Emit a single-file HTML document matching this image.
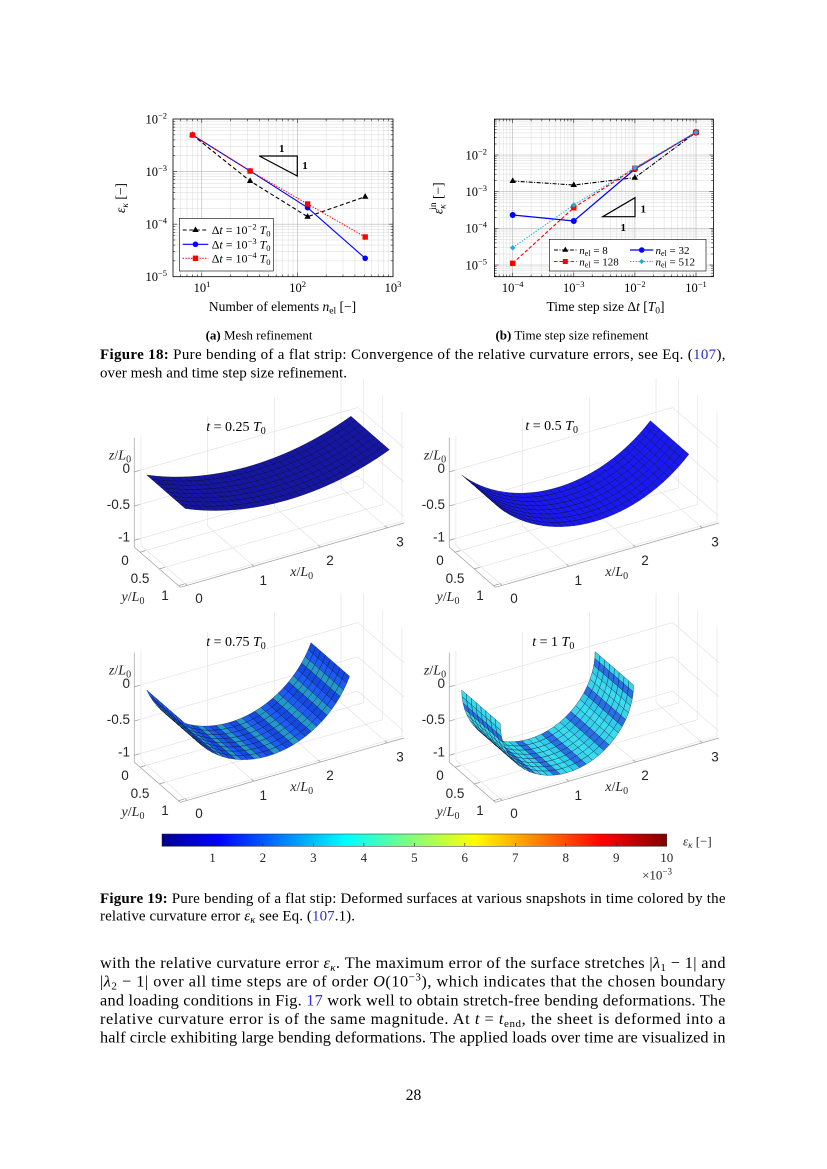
<!DOCTYPE html>
<html><head><meta charset="utf-8"><title>Figure 18 / 19</title>
<style>
html,body{margin:0;padding:0;background:#fff;width:827px;height:1169px;overflow:hidden}
svg{display:block}
text{font-family:"Liberation Serif","DejaVu Serif",serif}
.sf text{font-family:"Liberation Sans","DejaVu Sans",sans-serif}
.it{font-style:italic}
.b{font-weight:bold}
.lk{fill:#2b2bd0}
</style></head><body>
<svg xmlns="http://www.w3.org/2000/svg" width="827" height="1169" viewBox="0 0 827 1169">
<defs>
<linearGradient id="jet" x1="0" x2="1" y1="0" y2="0">
<stop offset="0" stop-color="#00008f"/>
<stop offset="0.111" stop-color="#0000ff"/>
<stop offset="0.365" stop-color="#00ffff"/>
<stop offset="0.619" stop-color="#ffff00"/>
<stop offset="0.873" stop-color="#ff0000"/>
<stop offset="1" stop-color="#800000"/>
</linearGradient>
</defs>
<rect width="827" height="1169" fill="#fff"/>

<!-- ===== Plot (a) ===== -->
<g id="gridA"></g>
<rect x="173" y="119" width="220" height="157.7" fill="none" stroke="#000" stroke-width="0.8"/>
<polyline points="192.5,135 250.1,181 307.6,216.7 365.2,196.7" fill="none" stroke="#000" stroke-width="1.1" stroke-dasharray="4 2.5"/>
<g fill="#000">
<polygon points="192.5,131.4 189.3,137 195.7,137"/><polygon points="250.1,177.4 246.9,183 253.3,183"/><polygon points="307.6,213.1 304.4,218.7 310.8,218.7"/><polygon points="365.2,193.1 362,198.7 368.4,198.7"/>
</g>
<polyline points="192.5,135 250.1,171 307.6,207.7 365.2,258.3" fill="none" stroke="#0000ff" stroke-width="1.1"/>
<g fill="#0000ff"><circle cx="192.5" cy="135" r="2.8"/><circle cx="250.1" cy="171" r="2.8"/><circle cx="307.6" cy="207.7" r="2.8"/><circle cx="365.2" cy="258.3" r="2.8"/></g>
<polyline points="192.5,135 250.1,171 307.6,204 365.2,237" fill="none" stroke="#ff0000" stroke-width="1.1" stroke-dasharray="1.3 1.5"/>
<g fill="#ff0000"><rect x="189.8" y="132.3" width="5.4" height="5.4"/><rect x="247.4" y="168.3" width="5.4" height="5.4"/><rect x="304.9" y="201.3" width="5.4" height="5.4"/><rect x="362.5" y="234.3" width="5.4" height="5.4"/></g>
<polygon points="259.3,156 297.3,156 297.3,176" fill="none" stroke="#000" stroke-width="1.2"/>
<text x="281.7" y="152" font-size="11" class="b" text-anchor="middle">1</text>
<text x="305" y="169" font-size="11" class="b" text-anchor="middle">1</text>
<!-- legend a -->
<rect x="179.3" y="218.3" width="94" height="52.7" fill="#fff" stroke="#000" stroke-width="0.6"/>
<line x1="182.7" y1="230" x2="208.3" y2="230" stroke="#000" stroke-width="1.1" stroke-dasharray="4 2.5"/>
<polygon points="195.5,226.4 192.3,232 198.7,232" fill="#000"/>
<line x1="182.7" y1="244.3" x2="208.3" y2="244.3" stroke="#0000ff" stroke-width="1.1"/>
<circle cx="195.5" cy="244.3" r="2.8" fill="#0000ff"/>
<line x1="182.7" y1="258.3" x2="208.3" y2="258.3" stroke="#ff0000" stroke-width="1.1" stroke-dasharray="1.3 1.5"/>
<rect x="192.8" y="255.6" width="5.4" height="5.4" fill="#ff0000"/>
<g font-size="12">
<text x="211.7" y="234">Δ<tspan class="it">t</tspan> = 10<tspan dy="-4.5" font-size="8.5">−2</tspan><tspan dy="4.5"> </tspan><tspan class="it">T</tspan><tspan dy="2.5" font-size="8.5">0</tspan></text>
<text x="211.7" y="248.3">Δ<tspan class="it">t</tspan> = 10<tspan dy="-4.5" font-size="8.5">−3</tspan><tspan dy="4.5"> </tspan><tspan class="it">T</tspan><tspan dy="2.5" font-size="8.5">0</tspan></text>
<text x="211.7" y="262.3">Δ<tspan class="it">t</tspan> = 10<tspan dy="-4.5" font-size="8.5">−4</tspan><tspan dy="4.5"> </tspan><tspan class="it">T</tspan><tspan dy="2.5" font-size="8.5">0</tspan></text>
</g>
<!-- ticks labels a -->
<g font-size="12.5">
<text x="167" y="123.5" text-anchor="end">10<tspan dy="-5" font-size="8.5">−2</tspan></text>
<text x="167" y="176" text-anchor="end">10<tspan dy="-5" font-size="8.5">−3</tspan></text>
<text x="167" y="228.5" text-anchor="end">10<tspan dy="-5" font-size="8.5">−4</tspan></text>
<text x="167" y="281" text-anchor="end">10<tspan dy="-5" font-size="8.5">−5</tspan></text>
<text x="202" y="292" text-anchor="middle">10<tspan dy="-5" font-size="8.5">1</tspan></text>
<text x="297.6" y="292" text-anchor="middle">10<tspan dy="-5" font-size="8.5">2</tspan></text>
<text x="393" y="292" text-anchor="middle">10<tspan dy="-5" font-size="8.5">3</tspan></text>
</g>
<text x="282.5" y="311" text-anchor="middle" font-size="13.5">Number of elements <tspan class="it">n</tspan><tspan font-size="9.5" dy="2.5">el</tspan><tspan dy="-2.5"> [−]</tspan></text>
<text transform="translate(125,198) rotate(-90)" text-anchor="middle" font-size="13.5"><tspan class="it">ε</tspan><tspan class="it" font-size="9.5" dy="3">κ</tspan><tspan dy="-3"> [−]</tspan></text>
<text x="259" y="339.5" text-anchor="middle" font-size="13"><tspan class="b">(a)</tspan> Mesh refinement</text>

<!-- ===== Plot (b) ===== -->
<g id="gridB"></g>
<rect x="494.4" y="119.1" width="219" height="157.6" fill="none" stroke="#000" stroke-width="0.8"/>
<polyline points="512.7,181 573.8,185 634.9,177.7 696,132.3" fill="none" stroke="#000" stroke-width="1.1" stroke-dasharray="4 1.5 1 1.5"/>
<g fill="#000">
<polygon points="512.7,177.4 509.5,183 515.9,183"/><polygon points="573.8,181.4 570.6,187 577,187"/><polygon points="634.9,174.1 631.7,179.7 638.1,179.7"/><polygon points="696,128.7 692.8,134.3 699.2,134.3"/>
</g>
<polyline points="512.7,215 573.8,221 634.9,169 696,132.3" fill="none" stroke="#0000ff" stroke-width="1.2"/>
<g fill="#0000ff"><circle cx="512.7" cy="215" r="3"/><circle cx="573.8" cy="221" r="3"/><circle cx="634.9" cy="169" r="3"/><circle cx="696" cy="132.3" r="3.2"/></g>
<polyline points="512.7,263.3 573.8,207.7 634.9,168.3 696,132.3" fill="none" stroke="#ff0000" stroke-width="1.1" stroke-dasharray="3.5 2"/>
<g fill="#ff0000"><rect x="510" y="260.6" width="5.4" height="5.4"/><rect x="571.1" y="205" width="5.4" height="5.4"/><rect x="632.2" y="165.6" width="5.4" height="5.4"/><rect x="693.3" y="129.6" width="5.4" height="5.4"/></g>
<polyline points="512.7,247.7 573.8,205 634.9,167.7 696,132.3" fill="none" stroke="#22aadd" stroke-width="1.1" stroke-dasharray="1.3 1.5"/>
<g fill="#22aadd">
<polygon points="512.7,244.9 515.5,247.7 512.7,250.5 509.9,247.7"/><polygon points="573.8,202.2 576.6,205 573.8,207.8 571,205"/><polygon points="634.9,164.9 637.7,167.7 634.9,170.5 632.1,167.7"/><polygon points="696,129.5 698.8,132.3 696,135.1 693.2,132.3"/>
</g>
<polygon points="602.7,216.7 635,216.7 635,197.7" fill="none" stroke="#000" stroke-width="1.2"/>
<text x="643.3" y="212.5" font-size="11" class="b" text-anchor="middle">1</text>
<text x="623.3" y="231" font-size="11" class="b" text-anchor="middle">1</text>
<!-- legend b -->
<rect x="549.3" y="239.3" width="156.7" height="31.7" fill="#fff" stroke="#000" stroke-width="0.6"/>
<line x1="554" y1="250" x2="576.7" y2="250" stroke="#000" stroke-width="1.1" stroke-dasharray="4 1.5 1 1.5"/>
<polygon points="565.3,246.6 562.3,251.8 568.3,251.8" fill="#000"/>
<line x1="630" y1="250" x2="653.3" y2="250" stroke="#0000ff" stroke-width="1.2"/>
<circle cx="641.7" cy="250" r="2.8" fill="#0000ff"/>
<line x1="554" y1="261.5" x2="576.7" y2="261.5" stroke="#ff0000" stroke-width="1.1" stroke-dasharray="3.5 2"/>
<rect x="562.8" y="259" width="5" height="5" fill="#ff0000"/>
<line x1="630" y1="261.5" x2="653.3" y2="261.5" stroke="#22aadd" stroke-width="1.1" stroke-dasharray="1.3 1.5"/>
<polygon points="641.7,258.9 644.3,261.5 641.7,264.1 639.1,261.5" fill="#22aadd"/>
<g font-size="11">
<text x="579.3" y="253.8"><tspan class="it">n</tspan><tspan font-size="8" dy="2">el</tspan><tspan dy="-2"> = 8</tspan></text>
<text x="655.5" y="253.8"><tspan class="it">n</tspan><tspan font-size="8" dy="2">el</tspan><tspan dy="-2"> = 32</tspan></text>
<text x="579.3" y="265.3"><tspan class="it">n</tspan><tspan font-size="8" dy="2">el</tspan><tspan dy="-2"> = 128</tspan></text>
<text x="655.5" y="265.3"><tspan class="it">n</tspan><tspan font-size="8" dy="2">el</tspan><tspan dy="-2"> = 512</tspan></text>
</g>
<g font-size="12.5">
<text x="487" y="159.5" text-anchor="end">10<tspan dy="-5" font-size="8.5">−2</tspan></text>
<text x="487" y="196" text-anchor="end">10<tspan dy="-5" font-size="8.5">−3</tspan></text>
<text x="487" y="232.5" text-anchor="end">10<tspan dy="-5" font-size="8.5">−4</tspan></text>
<text x="487" y="269.5" text-anchor="end">10<tspan dy="-5" font-size="8.5">−5</tspan></text>
<text x="512.7" y="292" text-anchor="middle">10<tspan dy="-5" font-size="8.5">−4</tspan></text>
<text x="573.8" y="292" text-anchor="middle">10<tspan dy="-5" font-size="8.5">−3</tspan></text>
<text x="634.9" y="292" text-anchor="middle">10<tspan dy="-5" font-size="8.5">−2</tspan></text>
<text x="696" y="292" text-anchor="middle">10<tspan dy="-5" font-size="8.5">−1</tspan></text>
</g>
<text x="605.5" y="311" text-anchor="middle" font-size="13.5">Time step size Δ<tspan class="it">t</tspan> [<tspan class="it">T</tspan><tspan font-size="9.5" dy="2.5">0</tspan><tspan dy="-2.5">]</tspan></text>
<text transform="translate(442.5,198.3) rotate(-90)" text-anchor="middle" font-size="13.5"><tspan class="it">ε</tspan><tspan class="it" font-size="9.5" dy="3">κ</tspan><tspan font-size="9.5" dx="-5.5" dy="-9.5">in</tspan><tspan dy="6.5"> [−]</tspan></text>
<text x="572" y="339.5" text-anchor="middle" font-size="13"><tspan class="b">(b)</tspan> Time step size refinement</text>

<!-- Figure 18 caption -->
<text x="100" y="359" font-size="15" textLength="625.5" lengthAdjust="spacing"><tspan class="b">Figure 18:</tspan> Pure bending of a flat strip: Convergence of the relative curvature errors, see Eq. (<tspan class="lk">107</tspan>),</text>
<text x="100" y="377.5" font-size="15" textLength="247" lengthAdjust="spacing">over mesh and time step size refinement.</text>

<!-- ===== 3D plots ===== -->
<g id="s0"></g><g id="s1"></g><g id="s2"></g><g id="s3"></g>

<g transform="translate(0,0)">
<g class="sf" font-size="13.5" fill="#262626">
<text x="130" y="473" text-anchor="end">0</text><text x="130" y="509" text-anchor="end">-0.5</text><text x="130" y="541.5" text-anchor="end">-1</text>
<text x="125" y="565" text-anchor="middle">0</text><text x="140" y="583" text-anchor="middle">0.5</text><text x="165" y="600" text-anchor="middle">1</text>
<text x="199" y="603" text-anchor="middle">0</text><text x="263.3" y="585" text-anchor="middle">1</text><text x="330" y="565" text-anchor="middle">2</text><text x="400" y="546.5" text-anchor="middle">3</text>
</g>
<g font-size="14" fill="#262626">
<text x="120" y="459.5" text-anchor="middle"><tspan class="it">z</tspan>/<tspan class="it">L</tspan><tspan font-size="10" dy="3">0</tspan></text>
<text x="133" y="601" text-anchor="middle"><tspan class="it">y</tspan>/<tspan class="it">L</tspan><tspan font-size="10" dy="3">0</tspan></text>
<text x="301.7" y="576" text-anchor="middle"><tspan class="it">x</tspan>/<tspan class="it">L</tspan><tspan font-size="10" dy="3">0</tspan></text>
<text x="236" y="431" text-anchor="middle" fill="#000"><tspan class="it">t</tspan> = 0.25 <tspan class="it">T</tspan><tspan font-size="10" dy="3">0</tspan></text>
</g>
</g>

<g transform="translate(315,0)">
<g class="sf" font-size="13.5" fill="#262626">
<text x="130" y="473" text-anchor="end">0</text><text x="130" y="509" text-anchor="end">-0.5</text><text x="130" y="541.5" text-anchor="end">-1</text>
<text x="125" y="565" text-anchor="middle">0</text><text x="140" y="583" text-anchor="middle">0.5</text><text x="165" y="600" text-anchor="middle">1</text>
<text x="199" y="603" text-anchor="middle">0</text><text x="263.3" y="585" text-anchor="middle">1</text><text x="330" y="565" text-anchor="middle">2</text><text x="400" y="546.5" text-anchor="middle">3</text>
</g>
<g font-size="14" fill="#262626">
<text x="120" y="459.5" text-anchor="middle"><tspan class="it">z</tspan>/<tspan class="it">L</tspan><tspan font-size="10" dy="3">0</tspan></text>
<text x="133" y="601" text-anchor="middle"><tspan class="it">y</tspan>/<tspan class="it">L</tspan><tspan font-size="10" dy="3">0</tspan></text>
<text x="301.7" y="576" text-anchor="middle"><tspan class="it">x</tspan>/<tspan class="it">L</tspan><tspan font-size="10" dy="3">0</tspan></text>
<text x="236.7" y="430" text-anchor="middle" fill="#000"><tspan class="it">t</tspan> = 0.5 <tspan class="it">T</tspan><tspan font-size="10" dy="3">0</tspan></text>
</g>
</g>

<g transform="translate(0,215)">
<g class="sf" font-size="13.5" fill="#262626">
<text x="130" y="473" text-anchor="end">0</text><text x="130" y="509" text-anchor="end">-0.5</text><text x="130" y="541.5" text-anchor="end">-1</text>
<text x="125" y="565" text-anchor="middle">0</text><text x="140" y="583" text-anchor="middle">0.5</text><text x="165" y="600" text-anchor="middle">1</text>
<text x="199" y="603" text-anchor="middle">0</text><text x="263.3" y="585" text-anchor="middle">1</text><text x="330" y="565" text-anchor="middle">2</text><text x="400" y="546.5" text-anchor="middle">3</text>
</g>
<g font-size="14" fill="#262626">
<text x="120" y="459.5" text-anchor="middle"><tspan class="it">z</tspan>/<tspan class="it">L</tspan><tspan font-size="10" dy="3">0</tspan></text>
<text x="133" y="601" text-anchor="middle"><tspan class="it">y</tspan>/<tspan class="it">L</tspan><tspan font-size="10" dy="3">0</tspan></text>
<text x="301.7" y="576" text-anchor="middle"><tspan class="it">x</tspan>/<tspan class="it">L</tspan><tspan font-size="10" dy="3">0</tspan></text>
<text x="236" y="431" text-anchor="middle" fill="#000"><tspan class="it">t</tspan> = 0.75 <tspan class="it">T</tspan><tspan font-size="10" dy="3">0</tspan></text>
</g>
</g>

<g transform="translate(315,215)">
<g class="sf" font-size="13.5" fill="#262626">
<text x="130" y="473" text-anchor="end">0</text><text x="130" y="509" text-anchor="end">-0.5</text><text x="130" y="541.5" text-anchor="end">-1</text>
<text x="125" y="565" text-anchor="middle">0</text><text x="140" y="583" text-anchor="middle">0.5</text><text x="165" y="600" text-anchor="middle">1</text>
<text x="199" y="603" text-anchor="middle">0</text><text x="263.3" y="585" text-anchor="middle">1</text><text x="330" y="565" text-anchor="middle">2</text><text x="400" y="546.5" text-anchor="middle">3</text>
</g>
<g font-size="14" fill="#262626">
<text x="120" y="459.5" text-anchor="middle"><tspan class="it">z</tspan>/<tspan class="it">L</tspan><tspan font-size="10" dy="3">0</tspan></text>
<text x="133" y="601" text-anchor="middle"><tspan class="it">y</tspan>/<tspan class="it">L</tspan><tspan font-size="10" dy="3">0</tspan></text>
<text x="301.7" y="576" text-anchor="middle"><tspan class="it">x</tspan>/<tspan class="it">L</tspan><tspan font-size="10" dy="3">0</tspan></text>
<text x="238.3" y="431" text-anchor="middle" fill="#000"><tspan class="it">t</tspan> = 1 <tspan class="it">T</tspan><tspan font-size="10" dy="3">0</tspan></text>
</g>
</g>

<!-- ===== Colorbar ===== -->
<rect x="162" y="834" width="504.7" height="12.3" fill="url(#jet)" stroke="#262626" stroke-width="0.5"/>
<g stroke="#262626" stroke-width="0.6">
<line x1="212.5" y1="846.3" x2="212.5" y2="843"/><line x1="262.9" y1="846.3" x2="262.9" y2="843"/><line x1="313.4" y1="846.3" x2="313.4" y2="843"/><line x1="363.9" y1="846.3" x2="363.9" y2="843"/><line x1="414.4" y1="846.3" x2="414.4" y2="843"/><line x1="464.8" y1="846.3" x2="464.8" y2="843"/><line x1="515.3" y1="846.3" x2="515.3" y2="843"/><line x1="565.8" y1="846.3" x2="565.8" y2="843"/><line x1="616.2" y1="846.3" x2="616.2" y2="843"/>
</g>
<g font-size="13" text-anchor="middle" fill="#262626">
<text x="212.5" y="862">1</text><text x="262.9" y="862">2</text><text x="313.4" y="862">3</text><text x="363.9" y="862">4</text><text x="414.4" y="862">5</text><text x="464.8" y="862">6</text><text x="515.3" y="862">7</text><text x="565.8" y="862">8</text><text x="616.2" y="862">9</text><text x="666.7" y="862">10</text>
</g>
<text x="672" y="879.5" text-anchor="end" font-size="13" fill="#262626">×10<tspan dy="-5" font-size="9">−3</tspan></text>
<text x="683" y="845.5" font-size="13" fill="#262626"><tspan class="it">ε</tspan><tspan class="it" font-size="9" dy="2.5">κ</tspan><tspan dy="-2.5"> [−]</tspan></text>

<!-- Figure 19 caption -->
<text x="100" y="903" font-size="15" textLength="625.5" lengthAdjust="spacing"><tspan class="b">Figure 19:</tspan> Pure bending of a flat stip: Deformed surfaces at various snapshots in time colored by the</text>
<text x="100" y="920.5" font-size="15" textLength="255" lengthAdjust="spacing">relative curvature error <tspan class="it">ε</tspan><tspan class="it" font-size="10.5" dy="2.5">κ</tspan><tspan dy="-2.5"> see Eq. (</tspan><tspan class="lk">107</tspan>.1).</text>

<!-- Body text -->
<g font-size="16.3">
<text x="100" y="968" textLength="625.5" lengthAdjust="spacing">with the relative curvature error <tspan class="it">ε</tspan><tspan class="it" font-size="11" dy="3">κ</tspan><tspan dy="-3">. The maximum error of the surface stretches |</tspan><tspan class="it">λ</tspan><tspan font-size="11" dy="3">1</tspan><tspan dy="-3"> − 1| and</tspan></text>
<text x="100" y="986.5" textLength="625.5" lengthAdjust="spacing">|<tspan class="it">λ</tspan><tspan font-size="11" dy="3">2</tspan><tspan dy="-3"> − 1| over all time steps are of order </tspan><tspan class="it">O</tspan>(10<tspan font-size="11" dy="-6">−3</tspan><tspan dy="6">), which indicates that the chosen boundary</tspan></text>
<text x="100" y="1005.5" textLength="625.5" lengthAdjust="spacing">and loading conditions in Fig. <tspan class="lk">17</tspan> work well to obtain stretch-free bending deformations. The</text>
<text x="100" y="1024" textLength="625.5" lengthAdjust="spacing">relative curvature error is of the same magnitude. At <tspan class="it">t</tspan> = <tspan class="it">t</tspan><tspan font-size="11" dy="3">end</tspan><tspan dy="-3">, the sheet is deformed into a</tspan></text>
<text x="100" y="1042.5" textLength="625.5" lengthAdjust="spacing">half circle exhibiting large bending deformations. The applied loads over time are visualized in</text>
</g>
<text x="413.5" y="1100" font-size="15.5" text-anchor="middle">28</text>
</svg>

<script>
(function(){
var NS="http://www.w3.org/2000/svg";
function mk(tag,a,p){var e=document.createElementNS(NS,tag);for(var k in a)e.setAttribute(k,a[k]);p.appendChild(e);return e;}
function ln(p,x1,y1,x2,y2,st,w){mk('line',{x1:x1.toFixed(2),y1:y1.toFixed(2),x2:x2.toFixed(2),y2:y2.toFixed(2),stroke:st,'stroke-width':w},p);}
function logGrid(id,X0,X1,Y0,Y1,px,py,lx0,lx1,ly0,ly1){
  var g=document.getElementById(id);
  var gm=mk('g',{},g),gM=mk('g',{},g),gt=mk('g',{},g);
  var d,m,v,c,M,tl;
  for(d=Math.floor(lx0)-1;d<=Math.ceil(lx1);d++)for(m=1;m<=9;m++){
    v=d+Math.log10(m); if(v<=lx0+0.002||v>=lx1-0.002)continue;
    c=px(v);M=(m===1);tl=M?4:2.2;
    ln(M?gM:gm,c,Y0,c,Y1,M?'#b4b4b4':'#d6d6d6',M?0.6:0.45);
    ln(gt,c,Y1,c,Y1-tl,'#000',0.5);ln(gt,c,Y0,c,Y0+tl,'#000',0.5);
  }
  for(d=Math.floor(ly0)-1;d<=Math.ceil(ly1);d++)for(m=1;m<=9;m++){
    v=d+Math.log10(m); if(v<=ly0+0.002||v>=ly1-0.002)continue;
    c=py(v);M=(m===1);tl=M?4:2.2;
    ln(M?gM:gm,X0,c,X1,c,M?'#b4b4b4':'#d6d6d6',M?0.6:0.45);
    ln(gt,X0,c,X0+tl,c,'#000',0.5);ln(gt,X1,c,X1-tl,c,'#000',0.5);
  }
}
logGrid('gridA',173,393,119,276.7,function(l){return 173+(l-0.699)*95.6;},function(l){return 119+(-2-l)*52.57;},0.699,3,-5,-2);
logGrid('gridB',494.4,713.4,119.1,276.7,function(l){return 512.7+(l+4)*61.1;},function(l){return 155+(-2-l)*36.67;},-4.3,-0.715,-5.32,-1.02);

function ax3(id,ox,oy,t,cf){
  var g=document.getElementById(id);
  function pr(x,y,z){return [ox+146.7+x*66.7+y*38.5, oy+475-x*19.2+y*33.5-z*68.4];}
  var xa=-0.1,xb=3.25,ya=-0.15,yb=1.05,za=-1.1,zb=0.5;
  function sg(a,b,st,w){var p=pr(a[0],a[1],a[2]),q=pr(b[0],b[1],b[2]);ln(g,p[0],p[1],q[0],q[1],st,w);}
  var gc='#e0e0e0',gw=0.6,i,j;
  [0,1,2,3].forEach(function(v){sg([v,ya,za],[v,ya,zb],gc,gw);sg([v,ya,za],[v,yb,za],gc,gw);});
  [-1,-0.5,0].forEach(function(v){sg([xa,ya,v],[xb,ya,v],gc,gw);sg([xb,ya,v],[xb,yb,v],gc,gw);});
  [0,0.5,1].forEach(function(v){sg([xa,v,za],[xb,v,za],gc,gw);sg([xb,v,za],[xb,v,zb],gc,gw);});
  var ac='#9c9c9c',aw=0.7;
  sg([xa,yb,za],[xb,yb,za],ac,aw);sg([xa,ya,za],[xa,yb,za],ac,aw);sg([xa,ya,za],[xa,ya,zb],ac,aw);
  [0,1,2,3].forEach(function(v){sg([v,yb,za],[v,yb-0.06,za],ac,aw);});
  [0,0.5,1].forEach(function(v){sg([xa,v,za],[xa+0.08,v,za],ac,aw);});
  [-1,-0.5,0].forEach(function(v){sg([xa,ya,v],[xa+0.08,ya,v],ac,aw);});
  var Ls=Math.PI,phi=Math.PI*t,R=Ls/phi,NX=32,NY=8,h=phi/2;
  function P(s,y){var a=s/R-h;return [R*(Math.sin(a)+Math.sin(h)),y,-R*(Math.cos(a)-Math.cos(h))];}
  var qs=[];
  for(i=0;i<NX;i++)for(j=0;j<NY;j++){
    var s0=i*Ls/NX,s1=(i+1)*Ls/NX,y0=j/NY,y1=(j+1)/NY;
    var c=[P(s0,y0),P(s1,y0),P(s1,y1),P(s0,y1)],d=0;
    c.forEach(function(p){d+=-p[0]+1.732*p[1]+1.129*p[2];});
    qs.push({c:c,d:d,i:i,j:j});
  }
  qs.sort(function(a,b){return a.d-b.d;});
  var sgp=mk('g',{stroke:'#000010','stroke-width':0.4,'stroke-opacity':0.75,'stroke-linejoin':'round'},g);
  qs.forEach(function(q){
    var pts=q.c.map(function(p){var r=pr(p[0],p[1],p[2]);return r[0].toFixed(2)+','+r[1].toFixed(2);}).join(' ');
    mk('polygon',{points:pts,fill:cf(q.i,q.j)},sgp);
  });
}
ax3('s0',0,0,0.25,function(){return '#1616a4';});
ax3('s1',315,0,0.5,function(){return '#1a1af0';});
ax3('s2',0,215,0.75,function(i,j){var k=i%3;return k===2?'#2597c8':(k===0?'#1d5cf4':'#1449e2');});
ax3('s3',315,215,1,function(i,j){var k=i%4;return k===2?'#2a6ee6':(k===0?'#3cdcf0':(k===1?'#2fcaec':'#38d4ee'));});
})();
</script>
</body></html>
